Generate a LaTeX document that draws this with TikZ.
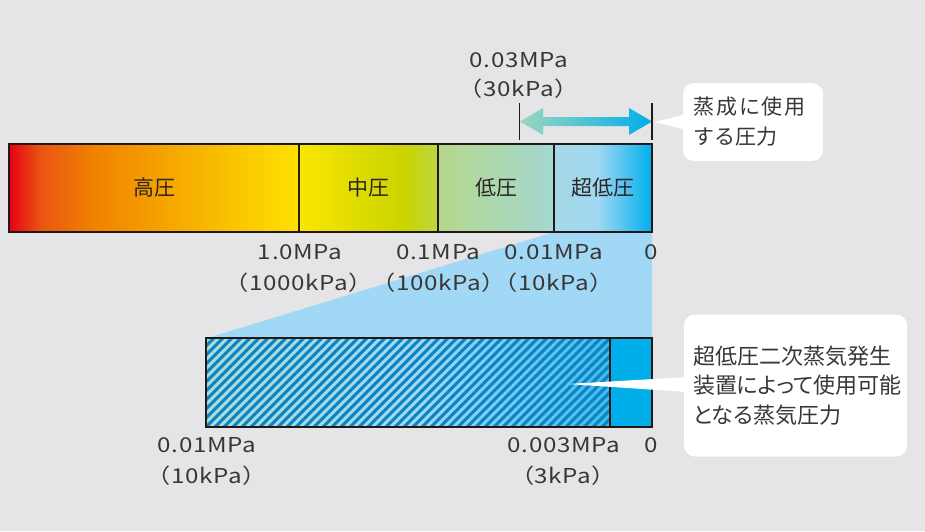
\documentclass[tikz,border=0pt]{standalone}
\usepackage{fontspec}
\setmainfont{Noto Sans CJK JP}
\newfontfamily\numfont{Noto Sans CJK JP}[FakeStretch=1.18,LetterSpace=3]
\newfontfamily\paltfont{Noto Sans CJK JP}[RawFeature=+palt]
\usetikzlibrary{calc}
\definecolor{bg}{HTML}{E5E5E7}
\definecolor{outl}{HTML}{231815}
\definecolor{txt}{HTML}{2B2523}
\definecolor{numtxt}{HTML}{3A3636}
\definecolor{trap}{HTML}{A0D8F5}
\definecolor{hatchc}{HTML}{0A84C4}
\definecolor{ultra}{HTML}{00AEE9}
\begin{document}
\begin{tikzpicture}[x=1pt,y=-1pt,
  outline/.style={draw=outl,line width=1.1pt},
  lab/.style={text=numtxt,font=\numfont\fontsize{20.5}{24}\selectfont,inner sep=0pt},
  barlab/.style={text=txt,font=\fontsize{21}{24}\selectfont,inner sep=0pt},
  callout/.style={fill=white,rounded corners=11pt,text=numtxt,align=left,inner ysep=0pt},
  hatchline/.style={draw=hatchc,line width=2.9pt},
  tick/.style={draw=outl,line width=1.1pt}]
\useasboundingbox (0,0) rectangle (925,531);
\fill[bg] (0,0) rectangle (925,531);
% trapezoid
\fill[trap] (554,232) -- (652,232) -- (652,338.5) -- (206,338.5) -- cycle;
% top bar
\shade[left color={rgb,255:red,230;green,0;blue,18},right color={rgb,255:red,234;green,85;blue,20}] (9,144) rectangle (40.5,232);
\shade[left color={rgb,255:red,234;green,85;blue,20},right color={rgb,255:red,240;green,131;blue,0}] (40,144) rectangle (95.5,232);
\shade[left color={rgb,255:red,240;green,131;blue,0},right color={rgb,255:red,248;green,181;blue,0}] (95,144) rectangle (200.5,232);
\shade[left color={rgb,255:red,248;green,181;blue,0},right color={rgb,255:red,255;green,225;blue,0}] (200,144) rectangle (299.5,232);
\shade[left color={rgb,255:red,250;green,230;blue,0},right color={rgb,255:red,201;green,212;blue,0}] (299,144) rectangle (405.5,232);
\shade[left color={rgb,255:red,201;green,212;blue,0},right color={rgb,255:red,189;green,214;blue,69}] (405,144) rectangle (438.5,232);
\shade[left color={rgb,255:red,181;green,216;blue,140},right color={rgb,255:red,164;green,216;blue,210}] (438,144) rectangle (554.5,232);
\shade[left color={rgb,255:red,166;green,216;blue,228},right color={rgb,255:red,159;green,216;blue,244}] (554,144) rectangle (598.5,232);
\shade[left color={rgb,255:red,159;green,216;blue,244},right color={rgb,255:red,0;green,175;blue,236}] (598,144) rectangle (652,232);
\draw[outline] (9,144) rectangle (652,232);
\draw[outline] (299,144) -- (299,232) (438,144) -- (438,232) (554,144) -- (554,232);
\node[barlab] (hi) at (154,188) {高圧};
\node[barlab] (mid) at (368.5,188) {中圧};
\node[barlab] (low) at (496,188) {低圧};
\node[barlab] (ul) at (603,188) {超低圧};
% bottom bar
\shade[left color={rgb,255:red,169;green,220;blue,214},right color={rgb,255:red,160;green,216;blue,242}] (206,338) rectangle (420.5,427);
\shade[left color={rgb,255:red,160;green,216;blue,242},right color={rgb,255:red,64;green,187;blue,236}] (420,338) rectangle (610,427);
\fill[ultra] (610,338) rectangle (652,427);
\begin{scope}
\clip (206,338) rectangle (610,427);
\foreach \x in {113,122,...,620} {\draw[hatchline] (\x,430) -- (\x+95,335);}
\end{scope}
\draw[outline] (206,338) rectangle (652,427);
\draw[outline] (610,338) -- (610,427);
% arrow
\shade[left color={rgb,255:red,158;green,214;blue,192},middle color={rgb,255:red,163;green,218;blue,242},right color={rgb,255:red,0;green,174;blue,234}]
  (520,121.5) -- (543,108) -- (543,117) -- (629,117) -- (629,108) -- (652,121.5) -- (629,135) -- (629,126) -- (543,126) -- (543,135) -- cycle;
\coordinate (tL1) at (519.5,103);
\coordinate (tL2) at (519.5,140);
\coordinate (tR1) at (652,103);
\coordinate (tR2) at (652,140);
\draw[tick] (tL1) -- (tL2);
\draw[tick] (tR1) -- (tR2);
% callouts
\node[callout,minimum width=140pt,minimum height=78pt,text width=120pt,inner xsep=10pt,font=\fontsize{21}{30}\selectfont] (c1) at (753,122)
  {蒸\kern2pt 成\kern2pt に\kern2pt 使\kern2pt 用\\する圧力};
\coordinate (p1) at (655,122);
\fill[white] (p1) -- ($(c1.west)+(4,-8)$) -- ($(c1.west)+(4,8)$) -- cycle;
\node[callout,minimum width=223pt,minimum height=142pt,text width=205pt,inner xsep=9pt,font=\paltfont\fontsize{22}{29.5}\selectfont] (c2) at (795.5,385.5)
  {超低圧二次蒸気発生\\装置によって使用可能\\となる蒸気圧力};
\coordinate (p2) at (567,384);
\fill[white] (p2) -- ($(c2.west)+(4,-8.5)$) -- ($(c2.west)+(4,6.5)$) -- cycle;
% labels
\node[lab] (a1) at (519,60) {0.03MPa};
\node[lab] (a2) at (519,89) {（30kPa）};
\node[lab] (b1) at (300,252) {1.0MPa};
\node[lab] (b2) at (299,283) {（1000kPa）};
\node[lab] (c1a) at (438.5,252) {0.1MPa};
\node[lab] (c1b) at (438.5,283) {（100kPa）};
\node[lab] (d1) at (554,252) {0.01MPa};
\node[lab] (d2) at (554,283) {（10kPa）};
\node[lab] (e1) at (651,252) {0};
\node[lab] (f1) at (207,445) {0.01MPa};
\node[lab] (f2) at (207,476) {（10kPa）};
\node[lab] (g1) at (564,445) {0.003MPa};
\node[lab] (g2) at (563,476) {（3kPa）};
\node[lab] (h1) at (651,445) {0};
\end{tikzpicture}
\end{document}
